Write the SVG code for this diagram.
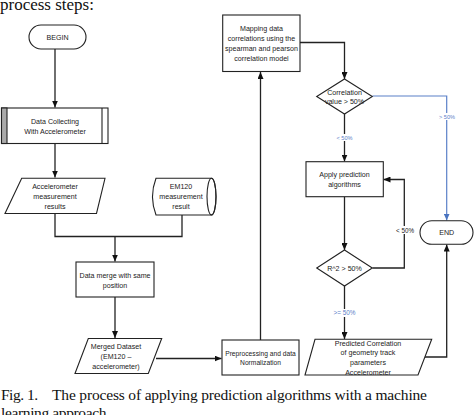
<svg xmlns="http://www.w3.org/2000/svg" width="474" height="415" viewBox="0 0 474 415">
<defs>
<marker id="ah" markerWidth="7" markerHeight="6" refX="7" refY="3" orient="auto" markerUnits="userSpaceOnUse"><path d="M0,0 L7,3 L0,6 z" fill="#111"/></marker>
<marker id="ahb" markerWidth="7" markerHeight="6" refX="7" refY="3" orient="auto" markerUnits="userSpaceOnUse"><path d="M0,0 L7,3 L0,6 z" fill="#4a74c0"/></marker>
<style>
.s{fill:#fff;stroke:#222;stroke-width:1.1}
.t{font-family:"Liberation Sans",Arial,sans-serif;font-size:7.1px;fill:#222;text-anchor:middle}
.c{fill:none;stroke:#222;stroke-width:1.3}
.b{fill:none;stroke:#5b80c8;stroke-width:1.2}
.lb{font-family:"Liberation Sans",Arial,sans-serif;font-size:5.6px;fill:#5b80c8;text-anchor:middle}
.cap{font-family:"Liberation Serif","Times New Roman",serif;font-size:15.5px;fill:#111}
</style>
</defs>
<rect width="474" height="415" fill="#fff"/>
<text class="cap" x="0" y="10" style="font-size:17px">process steps:</text>

<g id="connectors">
<path class="c" d="M55,49 V107.5" marker-end="url(#ah)"/>
<path class="c" d="M55,143.5 V177.5" marker-end="url(#ah)"/>
<path class="c" d="M55,213.5 V236.5 H182 V215"/>
<path class="c" d="M115,236.5 V261.5" marker-end="url(#ah)"/>
<path class="c" d="M115,297 V338" marker-end="url(#ah)"/>
<path class="c" d="M156,358.5 H221.5" marker-end="url(#ah)"/>
<path class="c" d="M260.5,340 V72" marker-end="url(#ah)"/>
<path class="c" d="M300,42.5 H344.5 V79" marker-end="url(#ah)"/>
<path class="b" d="M372.5,96 H446.7 V220.5" marker-end="url(#ahb)"/>
<path class="c" d="M344.5,114 V161.5" marker-end="url(#ah)"/>
<path class="c" d="M344.5,196.7 V250" marker-end="url(#ah)"/>
<path class="c" d="M372.5,268 H404.3 V179.5 H383.5" marker-end="url(#ah)"/>
<path class="c" d="M344.5,286 V339" marker-end="url(#ah)"/>
<path class="c" d="M425,357 H446.7 V244.5" marker-end="url(#ah)"/>
<rect x="438" y="113" width="18" height="7" fill="#fff"/>
<text class="lb" x="447" y="118.5">&gt; 50%</text>
<rect x="336" y="134" width="17" height="7" fill="#fff"/>
<text class="lb" x="344.5" y="139.5">&lt; 50%</text>
<rect x="395" y="226" width="19" height="8" fill="#fff"/>
<text class="t" x="405" y="232.5" style="font-size:6.3px">&lt; 50%</text>
<rect x="333" y="309" width="23" height="8" fill="#fff"/>
<text class="lb" x="344.5" y="315" style="font-size:6.4px">&gt;= 50%</text>
</g>

<g id="begin">
<rect class="s" x="29" y="25" width="57" height="24" rx="12"/>
<text class="t" x="57.5" y="39.5">BEGIN</text>
</g>

<g id="collect">
<rect class="s" x="1.5" y="108" width="106.5" height="35.5"/>
<rect x="1.5" y="108" width="5.5" height="35.5" fill="#aaa" stroke="#222" stroke-width="1.1"/>
<line x1="102" y1="108" x2="102" y2="143.5" stroke="#222" stroke-width="1.1"/>
<text class="t" x="55" y="123.5">Data Collecting</text>
<text class="t" x="55" y="133.5">With Accelerometer</text>
</g>

<g id="accel">
<polygon class="s" points="21.7,178.3 105,178.3 96.5,213.5 5,213.5"/>
<text class="t" x="55" y="189">Accelerometer</text>
<text class="t" x="55" y="199">measurement</text>
<text class="t" x="55" y="209">results</text>
</g>

<g id="em120">
<path class="s" d="M156,178.3 H211.5 A4.5,18.3 0 0 1 211.5,215 H156 Q149,196.6 156,178.3 z"/>
<ellipse cx="211.5" cy="196.6" rx="4.5" ry="18.3" fill="none" stroke="#222" stroke-width="1.1"/>
<text class="t" x="181" y="189">EM120</text>
<text class="t" x="181" y="199">measurement</text>
<text class="t" x="181" y="209">result</text>
</g>

<g id="merge">
<rect class="s" x="76" y="262" width="78" height="35"/>
<text class="t" x="115" y="278">Data merge with same</text>
<text class="t" x="115" y="287.5">position</text>
</g>

<g id="merged">
<polygon class="s" points="88.3,338.5 161.7,338.5 148.3,373.5 75,373.5"/>
<text class="t" x="116" y="349">Merged Dataset</text>
<text class="t" x="116" y="359">(EM120 –</text>
<text class="t" x="116" y="369">accelerometer)</text>
</g>

<g id="preprocess">
<rect class="s" x="222" y="340" width="77" height="35"/>
<text class="t" x="260.5" y="355.5" style="font-size:6.7px">Preprocessing and data</text>
<text class="t" x="260.5" y="365" style="font-size:6.7px">Normalization</text>
</g>

<g id="mapping">
<rect class="s" x="222.7" y="15" width="77.3" height="56.5"/>
<text class="t" x="261.5" y="30.5">Mapping data</text>
<text class="t" x="261.5" y="40.5">correlations using the</text>
<text class="t" x="261.5" y="50.5">spearman and pearson</text>
<text class="t" x="261.5" y="60.5">correlation model</text>
</g>

<g id="corr">
<polygon class="s" points="344.5,79 372.3,96.5 344.5,114 316.7,96.5"/>
<text class="t" x="344.5" y="94.5">Correlation</text>
<text class="t" x="344.5" y="104">value &gt; 50%</text>
</g>

<g id="apply">
<rect class="s" x="306" y="161.7" width="77.3" height="35"/>
<text class="t" x="344.5" y="176.5">Apply prediction</text>
<text class="t" x="344.5" y="186.5">algorithms</text>
</g>

<g id="r2">
<polygon class="s" points="344.5,250 372.3,268 344.5,286 316.7,268"/>
<text class="t" x="344.5" y="270.5">R^2 &gt; 50%</text>
</g>

<g id="predicted">
<polygon class="s" points="315,339.3 431.7,339.3 418,375 305,375"/>
<text class="t" x="368" y="345.5">Predicted Correlation</text>
<text class="t" x="368" y="355">of geometry track</text>
<text class="t" x="368" y="365">parameters</text>
<text class="t" x="368" y="374.5">Accelerometer</text>
</g>

<g id="end">
<rect class="s" x="420" y="220.7" width="53" height="23.6" rx="11.8"/>
<text class="t" x="446.7" y="235">END</text>
</g>

<text class="cap" x="1" y="400" textLength="37">Fig. 1.</text>
<text class="cap" x="52" y="400" textLength="375">The process of applying prediction algorithms with a machine</text>
<text class="cap" x="1" y="418" textLength="109">learning approach.</text>
</svg>
